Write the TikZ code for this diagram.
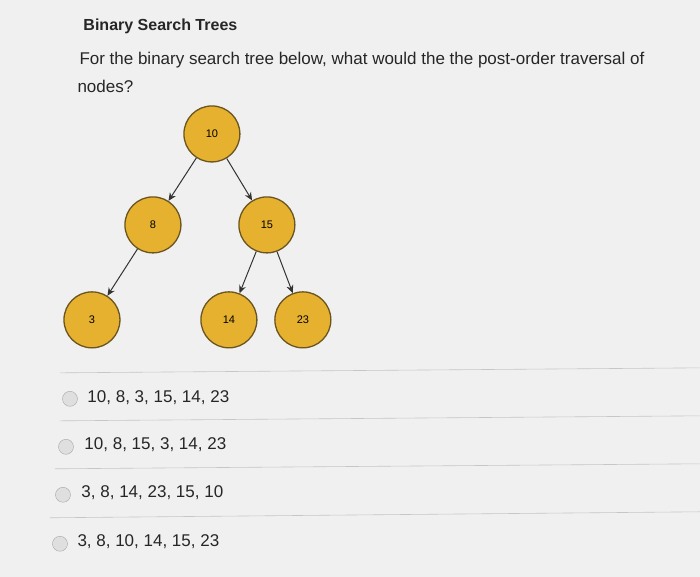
\documentclass[tikz,border=0pt]{standalone}
\usepackage{fontspec}
\setmainfont{Liberation Sans}
\usetikzlibrary{arrows.meta}
\definecolor{nodefill}{HTML}{E6B12E}
\definecolor{nodeline}{HTML}{6A5420}
\begin{document}
\begin{tikzpicture}[x=1pt,y=-1pt,
  bst/.style={circle,draw=nodeline,line width=1.3pt,fill=nodefill,minimum size=56pt,inner sep=0pt,font=\fontsize{11}{13}\selectfont},
  edge/.style={draw=black!80,line width=1pt,-{Stealth[length=8pt,width=7pt]}},
  radio/.style={circle,draw=gray!70,fill=gray!25,minimum size=15pt,inner sep=0pt},
  opt/.style={anchor=west,font=\fontsize{17}{20}\selectfont,text=black!85},
  sep/.style={draw=gray!45,line width=0.6pt}]
\fill[gray!12] (0,0) rectangle (700,577);
\node[anchor=west,font=\bfseries\fontsize{16}{19}\selectfont,text=black!85] (title) at (80,26) {Binary Search Trees};
\node[anchor=west,font=\fontsize{17}{20}\selectfont,text=black!85] (q1) at (76,60) {For the binary search tree below, what would the the post-order traversal of};
\node[anchor=west,font=\fontsize{17}{20}\selectfont,text=black!85] (q2) at (74,86) {nodes?};
\node[bst] (n10) at (212,134) {10};
\node[bst] (n8) at (153,225) {8};
\node[bst] (n15) at (267,225) {15};
\node[bst] (n3) at (92,320) {3};
\node[bst] (n14) at (229,320) {14};
\node[bst] (n23) at (303,320) {23};
\draw[edge] (n10) -- (n8);
\draw[edge] (n10) -- (n15);
\draw[edge] (n8) -- (n3);
\draw[edge] (n15) -- (n14);
\draw[edge] (n15) -- (n23);
\coordinate (s1a) at (60,373); \coordinate (s1b) at (700,368);
\coordinate (s2a) at (60,421); \coordinate (s2b) at (700,416);
\coordinate (s3a) at (55,469); \coordinate (s3b) at (700,464);
\coordinate (s4a) at (50,518); \coordinate (s4b) at (700,512);
\draw[sep] (s1a) -- (s1b);
\draw[sep] (s2a) -- (s2b);
\draw[sep] (s3a) -- (s3b);
\draw[sep] (s4a) -- (s4b);
\node[radio] (r1) at (70,399) {};
\node[radio] (r2) at (66,447) {};
\node[radio] (r3) at (63,495) {};
\node[radio] (r4) at (60,544) {};
\node[opt] (o1) at (84,398) {10, 8, 3, 15, 14, 23};
\node[opt] (o2) at (81,445) {10, 8, 15, 3, 14, 23};
\node[opt] (o3) at (78,493) {3, 8, 14, 23, 15, 10};
\node[opt] (o4) at (74,542) {3, 8, 10, 14, 15, 23};
\end{tikzpicture}
\end{document}
